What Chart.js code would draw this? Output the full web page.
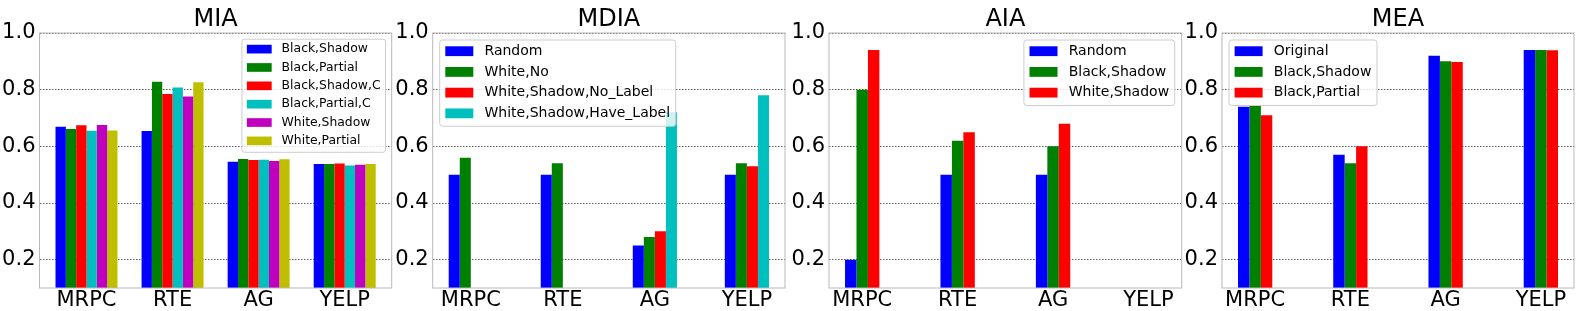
<!DOCTYPE html>
<html>
<head>
<meta charset="utf-8">
<script src="https://cdn.jsdelivr.net/npm/chart.js@4/dist/chart.umd.min.js"></script>
<style>
html,body{margin:0;padding:0;background:#fff;overflow:hidden;}
#wrap{position:relative;width:1581px;height:311px;}
canvas{position:absolute;top:0;}
</style>
</head>
<body>
<div id="wrap">
  <canvas id="c0" width="395" height="311" style="left:0px"></canvas>
  <canvas id="c1" width="395" height="311" style="left:395px"></canvas>
  <canvas id="c2" width="395" height="311" style="left:790px"></canvas>
  <canvas id="c3" width="395" height="311" style="left:1185px"></canvas>
</div>
<script>
// ===== Data =====
const categories = ["MRPC", "RTE", "AG", "YELP"];
const yTicks = [0.2, 0.4, 0.6, 0.8, 1.0];

// MIA
const miaNames = ["Black,Shadow", "Black,Partial", "Black,Shadow,C", "Black,Partial,C", "White,Shadow", "White,Partial"];
const miaBlackShadow   = [0.669, 0.654, 0.546, 0.538];
const miaBlackPartial  = [0.661, 0.828, 0.555, 0.538];
const miaBlackShadowC  = [0.674, 0.785, 0.552, 0.539];
const miaBlackPartialC = [0.655, 0.808, 0.553, 0.532];
const miaWhiteShadow   = [0.675, 0.776, 0.548, 0.535];
const miaWhitePartial  = [0.656, 0.826, 0.554, 0.538];

// MDIA
const mdiaNames = ["Random", "White,No", "White,Shadow,No_Label", "White,Shadow,Have_Label"];
const mdiaRandom    = [0.50, 0.50, 0.25, 0.50];
const mdiaWhiteNo   = [0.56, 0.54, 0.28, 0.54];
const mdiaNoLabel   = [null, null, 0.30, 0.53];
const mdiaHaveLabel = [null, null, 0.72, 0.78];

// AIA
const aiaNames = ["Random", "Black,Shadow", "White,Shadow"];
const aiaRandom      = [0.20, 0.50, 0.50, null];
const aiaBlackShadow = [0.80, 0.62, 0.60, null];
const aiaWhiteShadow = [0.94, 0.65, 0.68, null];

// MEA
const meaNames = ["Original", "Black,Shadow", "Black,Partial"];
const meaOriginal     = [0.74, 0.57, 0.92, 0.94];
const meaBlackShadow  = [0.743, 0.54, 0.90, 0.94];
const meaBlackPartial = [0.71, 0.60, 0.898, 0.939];

const colors = ["#0000ff", "#008000", "#ff0000", "#00bfbf", "#bf00bf", "#bfbf00"];
const FONT = "DejaVu Sans";

// ===== Panels =====
const panels = [
  {id:"c0", title:"MIA",  names:miaNames,  series:[miaBlackShadow, miaBlackPartial, miaBlackShadowC, miaBlackPartialC, miaWhiteShadow, miaWhitePartial], areaLeft:39.5, areaRight:391.7, side:"right", legendSize:12.4},
  {id:"c1", title:"MDIA", names:mdiaNames, series:[mdiaRandom, mdiaWhiteNo, mdiaNoLabel, mdiaHaveLabel], areaLeft:37.7, areaRight:390, side:"left", legendSize:14},
  {id:"c2", title:"AIA",  names:aiaNames,  series:[aiaRandom, aiaBlackShadow, aiaWhiteShadow], areaLeft:39, areaRight:391.7, side:"right", legendSize:14},
  {id:"c3", title:"MEA",  names:meaNames,  series:[meaOriginal, meaBlackShadow, meaBlackPartial], areaLeft:37, areaRight:389, side:"left", legendSize:14}
];

// ===== Plugins: axes frame + matplotlib-like legend =====
const frameBox = {
  id: "frameBox",
  afterDraw(chart){
    const a = chart.chartArea, ctx = chart.ctx;
    ctx.save();
    ctx.strokeStyle = "#b8b8b8";
    ctx.lineWidth = 1;
    ctx.strokeRect(a.left, a.top, a.right - a.left, a.bottom - a.top);
    ctx.restore();
  }
};

const legendBox = {
  id: "legendBox",
  afterDraw(chart, args, opts){
    const ctx = chart.ctx, a = chart.chartArea, fs = opts.fontSize;
    const items = chart.data.datasets;
    ctx.save();
    ctx.font = fs + "px '" + FONT + "'";
    const tw = Math.max(...items.map(d => ctx.measureText(d.label).width));
    const w = fs*0.8 + fs*2 + fs*0.8 + tw;
    const h = (items.length - 1)*fs*1.48 + fs*1.72;
    const x = opts.side === "right" ? a.right - fs*0.5 - w : a.left + fs*0.5;
    const y = a.top + fs*0.5;
    ctx.fillStyle = "rgba(255,255,255,0.8)";
    ctx.strokeStyle = "#cccccc";
    ctx.lineWidth = 1;
    ctx.beginPath();
    ctx.roundRect(x, y, w, h, fs*0.2);
    ctx.fill();
    ctx.stroke();
    ctx.textBaseline = "middle";
    items.forEach((d, i) => {
      const cy = y + fs*0.8 + i*fs*1.48;
      ctx.fillStyle = d.backgroundColor;
      ctx.fillRect(x + fs*0.4, cy - fs*0.35, fs*2, fs*0.7);
      ctx.fillStyle = "#000";
      ctx.fillText(d.label, x + fs*3.2, cy);
    });
    ctx.restore();
  }
};

panels.forEach(p => {
  const n = p.series.length;
  const group = n*0.12;
  const margin = 0.05*(categories.length - 1 + group);
  const xMin = -group/2 - margin;
  const xMax = categories.length - 1 + group/2 + margin;

  new Chart(document.getElementById(p.id), {
    type: "bar",
    data: {
      datasets: p.series.map((vals, i) => ({
        label: p.names[i],
        data: vals.map((v, k) => ({x:k, y:v})),
        backgroundColor: colors[i],
        borderWidth: 0,
        categoryPercentage: group,
        barPercentage: 1
      }))
    },
    options: {
      responsive: false,
      animation: false,
      layout: {padding: {left:0, right:395 - p.areaRight, top:0, bottom:0}},
      plugins: {
        legend: {display:false},
        tooltip: {enabled:false},
        title: {
          display: true, text: p.title, fullSize: false, color: "#000",
          font: {family:FONT, size:24, weight:"normal", lineHeight:1},
          padding: {top:8, bottom:1}
        },
        legendBox: {fontSize:p.legendSize, side:p.side}
      },
      scales: {
        x: {
          type: "linear", min: xMin, max: xMax, offset: false,
          grid: {display:false, drawTicks:false}, border: {display:false},
          afterFit: s => { s.height = 23; },
          afterBuildTicks: s => { s.ticks = categories.map((c, i) => ({value:i})); },
          ticks: {autoSkip:false, maxRotation:0, padding:0, color:"#000",
                  font:{family:FONT, size:21}, callback: v => categories[v]}
        },
        y: {
          min: 0.1, max: 1.0, z: 1,
          afterFit: s => { s.width = p.areaLeft; },
          afterBuildTicks: s => { s.ticks = yTicks.map(v => ({value:v})); },
          grid: {color:"rgba(0,0,0,0.8)", lineWidth:0.8, drawTicks:false},
          border: {display:false, dash:[1.5,1.5]},
          ticks: {padding:4, color:"#000", font:{family:FONT, size:21}, callback: v => v.toFixed(1)}
        }
      }
    },
    plugins: [frameBox, legendBox]
  });
});
</script>
</body>
</html>
